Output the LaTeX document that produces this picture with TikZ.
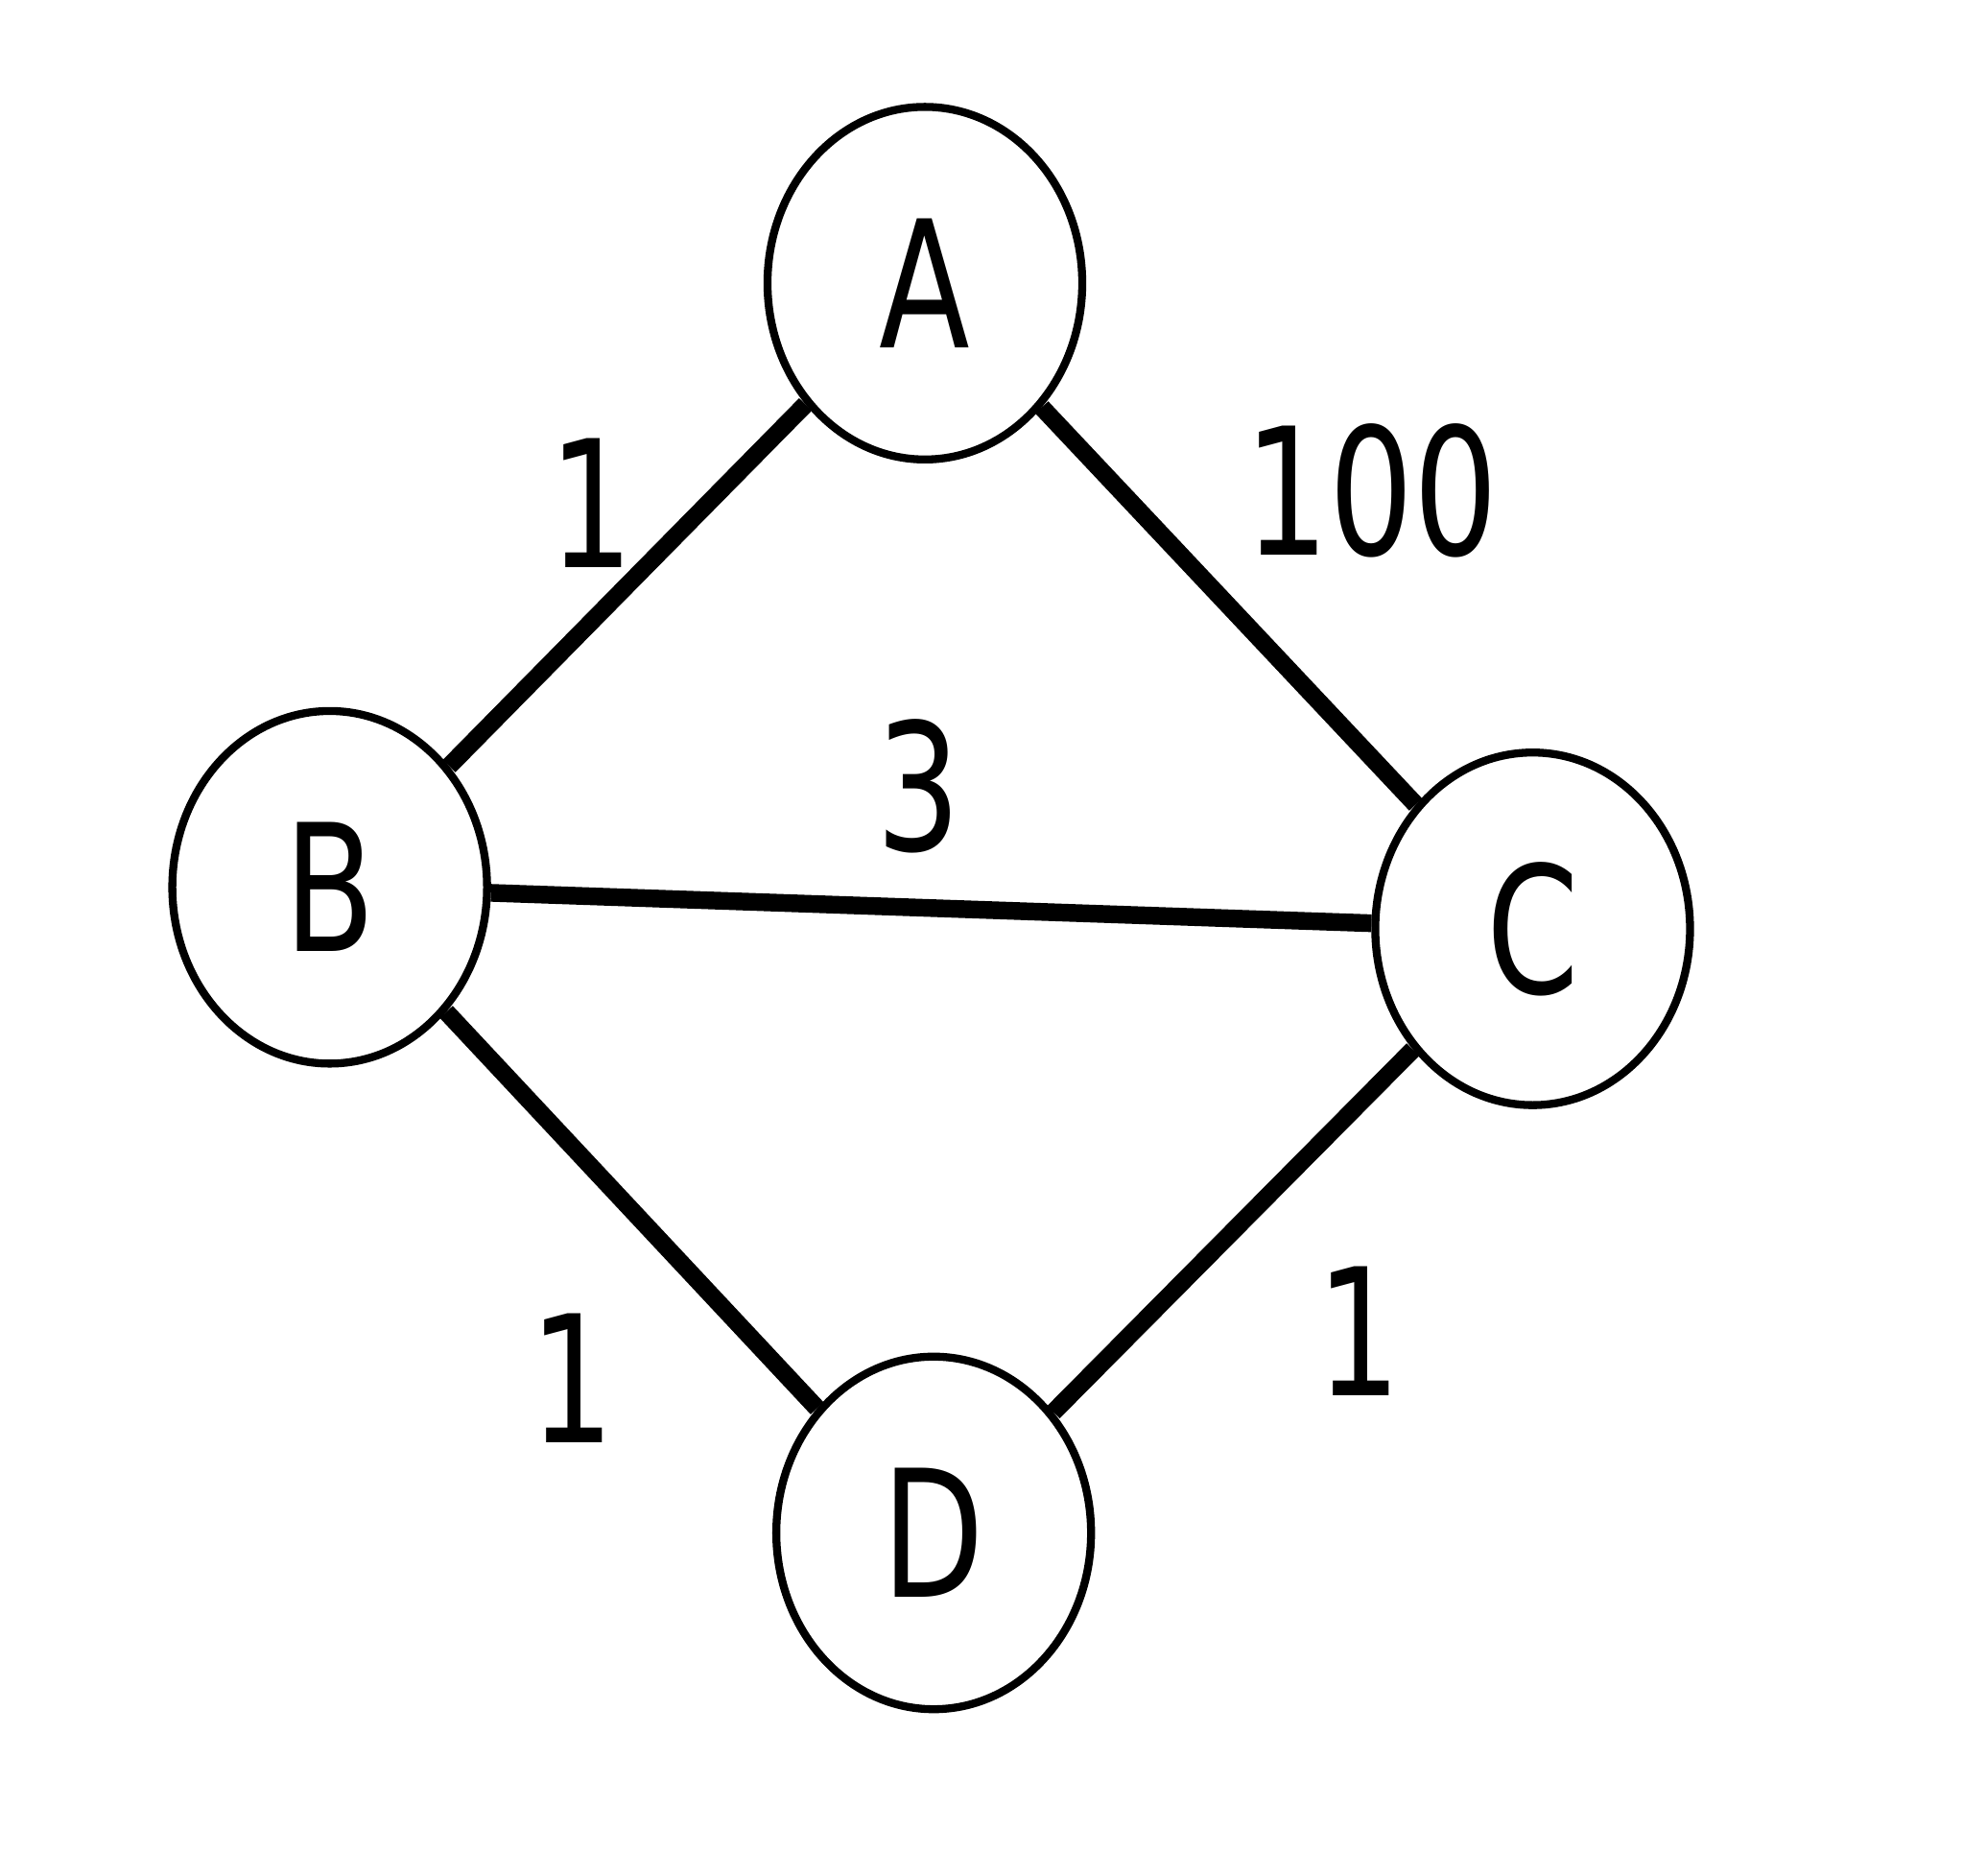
\documentclass[tikz,border=0pt]{standalone}
\usepackage{fontspec}
\setmainfont{DejaVu Sans}
\usetikzlibrary{shapes.geometric}
\begin{document}
\begin{tikzpicture}[x=0.01cm,y=-0.01cm,
  vert/.style={draw,ellipse,line width=1.8pt,minimum width=2.5cm,minimum height=2.8cm,inner sep=0pt,font=\fontsize{40}{44}\selectfont},
  edge/.style={line width=4pt},
  wlabel/.style={font=\fontsize{40}{44}\selectfont}]
\useasboundingbox (0,0) rectangle (1560,1490);
\node[vert] (A) at (735,225) {\scalebox{0.75}[1]{A}};
\node[vert] (B) at (262,705) {\scalebox{0.75}[1]{B}};
\node[vert] (C) at (1218,738) {\scalebox{0.75}[1]{C}};
\node[vert] (D) at (742,1218) {\scalebox{0.75}[1]{D}};
\draw[edge] (A) -- (B);
\draw[edge] (A) -- (C);
\draw[edge] (B) -- (C);
\draw[edge] (B) -- (D);
\draw[edge] (C) -- (D);
\node[wlabel] (l1) at (470,400) {\scalebox{0.75}[1]{1}};
\node[wlabel] (l2) at (1090,390) {\scalebox{0.75}[1]{100}};
\node[wlabel] (l3) at (730,625) {\scalebox{0.75}[1]{3}};
\node[wlabel] (l4) at (455,1095) {\scalebox{0.75}[1]{1}};
\node[wlabel] (l5) at (1080,1058) {\scalebox{0.75}[1]{1}};
\end{tikzpicture}
\end{document}
